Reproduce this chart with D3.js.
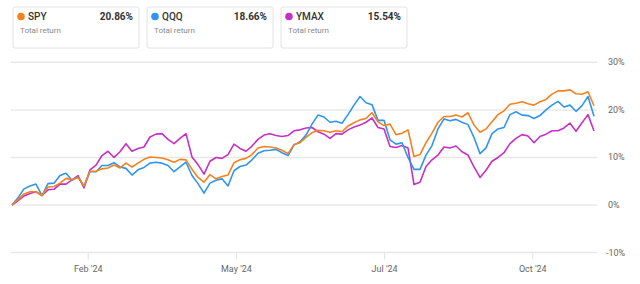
<!DOCTYPE html>
<html lang="en">
<head>
<meta charset="UTF-8">
<script src="https://d3js.org/d3.v7.min.js"></script>
<style>
    body { margin: 0; background: #fff; font-family: Roboto, "Noto Sans", sans-serif; }
    .grid line { stroke: #e8e8e8; stroke-width: 1.5; }
    .ylab { font-size: 9px; fill: #666; }
    .xlab { font-size: 9px; fill: #666; text-anchor: middle; }
</style>
</head>
<body>
<svg id="chart" width="640" height="284"></svg>
<script>
    // series, one value per step (~ every few trading days), % total return
    const spy = [0, 1.2, 2.3, 2.8, 2.8, 2.0, 3.8, 3.9, 4.6, 5.6, 5.3, 5.8, 4.0, 7.1, 7.1, 7.6, 7.8, 8.4, 7.8, 8.8,
        8.0, 8.8, 9.6, 10.1, 10.0, 9.9, 9.5, 9.0, 9.6, 9.5, 7.5, 5.8, 4.8, 6.4, 5.5, 6.0, 6.3, 8.9, 9.5, 9.8,
        10.6, 12.0, 12.3, 12.2, 12.0, 11.5, 10.8, 12.7, 13.1, 14.2, 15.2, 15.7, 15.6, 15.3, 15.6, 15.4, 16.6, 17.3, 17.9, 18.2,
        19.4, 17.5, 16.7, 17.0, 14.8, 15.1, 15.8, 10.2, 10.6, 13.1, 15.1, 17.4, 18.6, 18.6, 18.9, 18.5, 19.4, 16.8, 15.3, 16.0,
        17.5, 19.0, 19.8, 21.2, 21.4, 21.7, 21.3, 21.0, 21.7, 22.2, 23.3, 24.0, 24.0, 24.2, 23.4, 23.3, 23.8, 20.86];
    const qqq = [0, 1.5, 3.4, 4.0, 4.4, 2.0, 4.5, 4.6, 6.2, 6.7, 5.2, 5.9, 4.0, 7.0, 7.0, 8.3, 8.3, 8.9, 8.0, 7.7,
        6.3, 7.4, 7.9, 8.8, 9.0, 8.8, 8.3, 7.0, 8.0, 9.0, 6.2, 4.5, 2.5, 4.6, 5.2, 5.5, 4.0, 7.2, 8.1, 8.4,
        9.5, 10.9, 11.4, 11.5, 11.7, 11.0, 10.4, 12.6, 13.3, 14.7, 17.0, 18.9, 18.5, 17.4, 17.6, 17.2, 19.0, 21.0, 22.8, 21.5,
        21.1, 17.8, 17.8, 13.7, 12.8, 13.1, 10.0, 7.5, 7.5, 10.5, 12.5, 16.0, 18.1, 17.7, 18.0, 17.4, 16.9, 14.2, 10.8, 12.0,
        15.0, 16.0, 16.3, 19.0, 19.6, 18.9, 18.8, 18.2, 18.8, 20.0, 21.0, 21.8, 20.6, 21.0, 19.7, 20.9, 22.8, 18.66];
    const ymax = [0, 0.9, 1.9, 2.4, 2.8, 2.0, 3.2, 3.3, 4.4, 4.4, 5.3, 6.2, 3.6, 7.4, 8.4, 10.4, 11.3, 10.0, 11.2, 12.9,
        11.3, 11.9, 12.2, 14.3, 14.9, 15.0, 13.8, 12.9, 14.0, 15.0, 10.1, 8.5, 6.5, 9.2, 10.0, 9.8, 10.6, 12.8, 11.9, 11.3,
        12.4, 13.8, 14.7, 15.0, 14.6, 14.4, 14.6, 15.6, 15.8, 16.2, 16.3, 15.4, 14.9, 14.0, 15.0, 14.9, 15.8, 16.4, 16.8, 17.4,
        18.3, 16.3, 16.0, 12.3, 12.1, 12.5, 12.0, 4.3, 4.8, 8.1, 9.5, 10.5, 12.2, 12.0, 12.4, 11.2, 10.5, 8.0, 5.8, 7.3,
        9.2, 10.0, 11.0, 12.9, 14.0, 14.8, 14.5, 13.1, 14.4, 14.9, 15.6, 15.6, 16.2, 17.2, 15.5, 17.3, 19.0, 15.54];

    const tickers = ["SPY", "QQQ", "YMAX"];
    const totals = ["20.86%", "18.66%", "15.54%"];
    const colors = ["#f5821f", "#2f95ee", "#c630c6"];
    const yTicks = [30, 20, 10, 0, -10];
    const xTickIdx = [12.7, 37.4, 62.1, 86.8];
    const xTickLabels = ["Feb '24", "May '24", "Jul '24", "Oct '24"];

    const svg = d3.select("#chart");
    const allSeries = [spy, qqq, ymax];

    const x = d3.scaleLinear().domain([0, spy.length - 1]).range([12, 594]);
    const y = d3.scaleLinear().domain([-10, 30]).range([252.6, 62.3]);

    // gridlines
    const grid = svg.append("g").attr("class", "grid");
    grid.selectAll("line").data(yTicks).join("line")
        .attr("x1", 11).attr("x2", 597)
        .attr("y1", d => y(d)).attr("y2", d => y(d));
    svg.selectAll(".ylab").data(yTicks).join("text")
        .attr("class", "ylab")
        .attr("x", d => d < 0 ? 606 : 608)
        .attr("y", d => y(d) + 3)
        .text(d => d + "%");

    // x ticks
    svg.selectAll(".xtick").data(xTickIdx).join("line")
        .attr("class", "xtick")
        .attr("x1", d => x(d)).attr("x2", d => x(d))
        .attr("y1", y(-10)).attr("y2", y(-10) + 7)
        .attr("stroke", "#e3e3e3").attr("stroke-width", 1);
    svg.selectAll(".xlab").data(xTickIdx).join("text")
        .attr("class", "xlab")
        .attr("x", d => x(d))
        .attr("y", 272)
        .text((d, i) => xTickLabels[i]);

    // lines: YMAX first so SPY/QQQ sit on top? reference draws magenta over
    const line = d3.line().x((d, i) => x(i)).y(d => y(d));
    [2, 1, 0].forEach(k => {
        svg.append("path")
            .datum(allSeries[k])
            .attr("fill", "none")
            .attr("stroke", colors[k])
            .attr("stroke-width", 1.6)
            .attr("stroke-linejoin", "round")
            .attr("d", line);
    });

    // legend cards
    const card = svg.selectAll(".card").data(tickers).join("g")
        .attr("class", "card")
        .attr("transform", (d, i) => `translate(${13 + i * 134},7)`);
    card.append("rect")
        .attr("width", 126).attr("height", 41)
        .attr("rx", 2)
        .attr("fill", "#fff")
        .attr("stroke", "#e2e2e2");
    card.append("circle")
        .attr("cx", 8).attr("cy", 9.5).attr("r", 3.8)
        .attr("fill", (d, i) => colors[i]);
    card.append("text")
        .attr("x", 15).attr("y", 13)
        .attr("font-size", 10).attr("font-weight", 500).attr("fill", "#333")
        .text(d => d);
    card.append("text")
        .attr("x", 120).attr("y", 13)
        .attr("text-anchor", "end")
        .attr("font-size", 10).attr("font-weight", 700).attr("fill", "#333")
        .text((d, i) => totals[i]);
    card.append("text")
        .attr("x", 7).attr("y", 26)
        .attr("font-size", 8).attr("fill", "#888")
        .text("Total return");
</script>
</body>
</html>
